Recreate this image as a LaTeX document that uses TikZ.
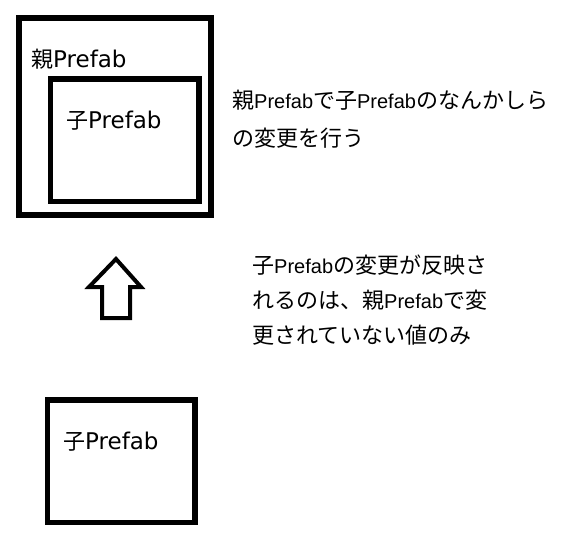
\documentclass[tikz,border=0pt]{standalone}
\usepackage{fontspec}
\usepackage{tikz}
\usetikzlibrary{calc}
\usetikzlibrary{positioning}
\setmainfont{Liberation Sans}
\newfontfamily\cjkfont{Noto Sans CJK JP}
\newfontfamily\labelfont{DejaVu Sans}
\newcommand{\jp}[1]{{\cjkfont\fontsize{22}{22}\selectfont #1}}
\definecolor{inkblack}{RGB}{0, 0, 0}

\tikzset{
    prefabbox/.style={draw=inkblack, line width=5.5pt, inner sep=0pt, outer sep=0pt},
    prefablabel/.style={anchor=base west, inner sep=0pt, font=\labelfont\fontsize{23}{23}\selectfont},
    note/.style={anchor=base west, inner sep=0pt, align=left}
}

\begin{document}
\begin{tikzpicture}[x=1pt, y=-1pt]
            \useasboundingbox (0,0) rectangle (583,539);
            % parent prefab with nested child
            \node[prefabbox, line width=6pt, minimum width=192pt, minimum height=197.5pt] (parent) at (114.50, 116.25) {};
            \node[prefabbox, minimum width=148.5pt, minimum height=122.5pt]               (nested) at (124.75, 140.25) {};
            \node[prefablabel] (parentname) at (31, 67)  {\jp{親}Prefab};
            \node[prefablabel] (nestedname) at (66, 128) {\jp{子}Prefab};
            % child prefab alone
            \node[prefabbox, minimum width=147.5pt, minimum height=122.5pt]               (child)  at (121.25, 461.25) {};
            \node[prefablabel] (childname)  at (63, 449) {\jp{子}Prefab};
            % hollow up arrow
            \draw[inkblack, line width=4pt] (116, 259) -- (89, 287) -- (102, 287) -- (102, 318)
                 -- (130, 318) -- (130, 287) -- (141, 287) -- cycle;
            % notes (anchored at the baseline of their last line)
            \node[note, font=\fontsize{20}{38}\selectfont] (editnote) at (232, 146)
                 {\jp{親}Prefab\jp{で子}Prefab\jp{のなんかしら}\\\jp{の変更を行う}};
            \node[note, font=\fontsize{20}{35}\selectfont] (reflectnote) at (252, 343)
                 {\jp{子}Prefab\jp{の変更が反映さ}\\\jp{れるのは、親}Prefab\jp{で変}\\\jp{更されていない値のみ}};
        \end{tikzpicture}
\end{document}
